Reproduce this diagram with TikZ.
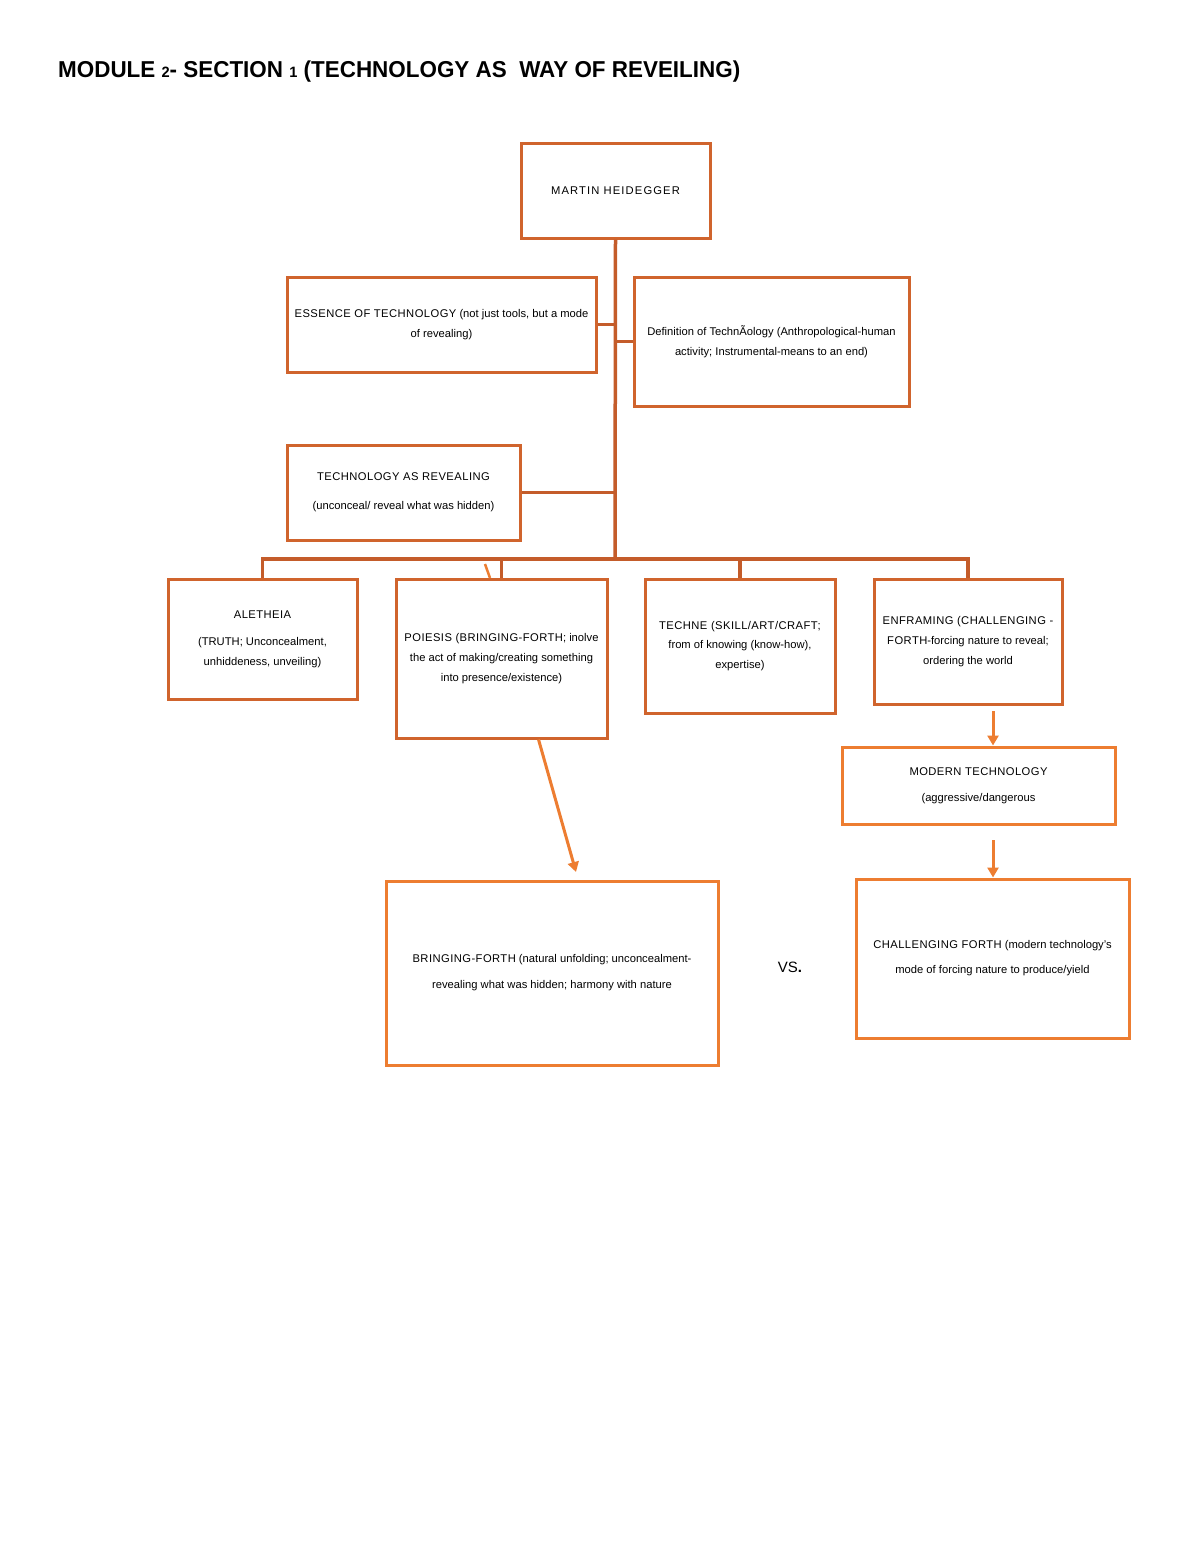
\documentclass[tikz,border=0pt]{standalone}
\usepackage{fontspec}
\setmainfont{Liberation Sans}
\newfontfamily\capsfont[LetterSpace=4]{Liberation Sans}
\newfontfamily\widecapsfont[LetterSpace=10]{Liberation Sans}
\newfontfamily\titlefont{Liberation Sans}
\usetikzlibrary{arrows.meta,calc}
\definecolor{boxdark}{RGB}{208,100,45}
\definecolor{boxlight}{RGB}{237,125,49}
\definecolor{linkbrown}{RGB}{196,92,42}
\newcommand{\cp}[1]{{\capsfont #1}}
\tikzset{
  boxA/.style={draw=boxdark, line width=3pt, fill=white, align=center, inner sep=2pt, font=\fontsize{11.2}{13.4}\selectfont},
  boxB/.style={draw=boxlight, line width=3pt, fill=white, align=center, inner sep=2pt, font=\fontsize{11.2}{13.4}\selectfont},
  link/.style={draw=linkbrown, line width=3.5pt},
  arr/.style={draw=boxlight, line width=3pt, -{Triangle[width=11pt,length=10pt]}},
  tickline/.style={draw=boxlight, line width=2.5pt}
}
\begin{document}
\begin{tikzpicture}[x=1pt,y=-1pt]
\useasboundingbox[fill=white] (0,0) rectangle (1200,1553);

\node[anchor=base west, inner sep=0pt] (title) at (58,77)
  {\resizebox{682pt}{\height}{\titlefont\bfseries\fontsize{23}{26}\selectfont MODULE {\fontsize{15}{18}\selectfont 2}- SECTION {\fontsize{15}{18}\selectfont 1} (TECHNOLOGY AS\ \ WAY OF REVEILING)}};

\node[boxA, minimum width=189pt, minimum height=95pt] (martin) at (615.5,190.5) {{\widecapsfont MARTIN HEIDEGGER}};
\node[boxA, minimum width=309pt, minimum height=95pt] (essence) at (441.5,324.5)
  {\cp{ESSENCE OF TECHNOLOGY} (not just tools, but a mode\\[6.5pt] of revealing)};
\node[boxA, minimum width=275pt, minimum height=129pt] (defn) at (771.5,341.5)
  {Definition of TechnÃology (Anthropological-human\\[6.5pt] activity; Instrumental-means to an end)};
\node[boxA, minimum width=233pt, minimum height=95pt] (techrev) at (403.5,492.5)
  {\cp{TECHNOLOGY AS REVEALING}\\[15.5pt] (unconceal/ reveal what was hidden)};

\node[boxA, minimum width=189pt, minimum height=120pt] (aletheia) at (262.5,639)
  {\cp{ALETHEIA}\\[13.5pt] (TRUTH; Unconcealment,\\[6.5pt] unhiddeness, unveiling)};
\node[boxA, minimum width=211pt, minimum height=159pt] (poiesis) at (501.5,658.5)
  {\cp{POIESIS (BRINGING-FORTH}; inolve\\[6.5pt] the act of making/creating something\\[6.5pt] into presence/existence)};
\node[boxA, minimum width=190pt, minimum height=134pt] (techne) at (740,646)
  {\cp{TECHNE (SKILL/ART/CRAFT};\\[6.5pt] from of knowing (know-how),\\[6.5pt] expertise)};
\node[boxA, minimum width=188pt, minimum height=125pt] (enframing) at (968,641.5)
  {\cp{ENFRAMING (CHALLENGING -}\\[6.5pt] \cp{FORTH}-forcing nature to reveal;\\[6.5pt] ordering the world};

\node[boxB, minimum width=273pt, minimum height=77pt] (modern) at (978.5,785.5)
  {\raisebox{11pt}{\begin{tabular}{@{}c@{}}\cp{MODERN TECHNOLOGY}\\[12.5pt] (aggressive/dangerous\end{tabular}}};
\node[boxB, minimum width=332pt, minimum height=184pt] (bringing) at (552,973)
  {\raisebox{16pt}{\begin{tabular}{@{}c@{}}\cp{BRINGING-FORTH} (natural unfolding; unconcealment-\\[12.5pt] revealing what was hidden; harmony with nature\end{tabular}}};
\node[boxB, minimum width=273pt, minimum height=159pt] (challenging) at (992.5,958.5)
  {\raisebox{17pt}{\begin{tabular}{@{}c@{}}\cp{CHALLENGING FORTH} (modern technology's\\[11.5pt] mode of forcing nature to produce/yield\end{tabular}}};

\node[font=\fontsize{15}{18}\selectfont] (vs) at (790,967) {VS\textbf{.}};

% trunk and branches
\coordinate (bus) at (615,559);
\draw[link] (martin.south) -- (bus);
\draw[link] (essence.east) -- (essence.east -| bus);
\draw[link] (defn.west) -- (defn.west -| bus);
\draw[link] (techrev.east) -- (techrev.east -| bus);
\draw[link, line cap=rect] (aletheia.north |- bus) -- (enframing.north |- bus);
\draw[link] (aletheia.north |- bus) -- (aletheia.north);
\draw[link] (poiesis.north |- bus) -- (poiesis.north);
\draw[link] (techne.north |- bus) -- (techne.north);
\draw[link] (enframing.north |- bus) -- (enframing.north);

% stray tick
\coordinate (t1) at (485,564);
\coordinate (t2) at (490,578);
\draw[tickline] (t1) -- (t2);

% arrows
\coordinate (pa) at ($(poiesis.south west)!0.673!(poiesis.south east)$);
\coordinate (pb) at (576,872);
\draw[arr] (pa) -- (pb);
\coordinate (ea) at (993,711);
\draw[arr] (ea) -- (ea |- modern.north);
\coordinate (ma) at (993,840);
\draw[arr] (ma) -- (ma |- challenging.north);
\end{tikzpicture}
\end{document}
